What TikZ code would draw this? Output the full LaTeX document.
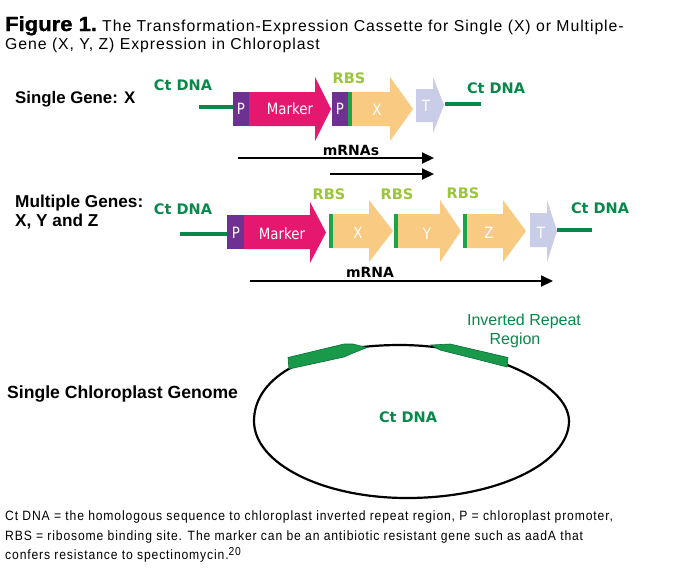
\documentclass[tikz,border=0pt]{standalone}
\usepackage{fontspec}
\setmainfont{Liberation Sans}
\newfontfamily\vfont{DejaVu Sans}
\newfontfamily\tfont[FakeStretch=0.86]{DejaVu Sans}
\newfontfamily\capfont[LetterSpace=6]{Liberation Sans}
\newfontfamily\notefont[FakeStretch=0.9,LetterSpace=6.4]{Liberation Sans}
\newfontfamily\figfont[FakeStretch=1.08,FakeBold=1.2]{Liberation Sans}
\usetikzlibrary{arrows.meta}
\definecolor{ctgreen}{RGB}{10,135,75}
\definecolor{rbsgreen}{RGB}{156,197,62}
\definecolor{ppurple}{RGB}{110,49,145}
\definecolor{marker}{RGB}{229,23,111}
\definecolor{tan}{RGB}{249,203,130}
\definecolor{tlav}{RGB}{201,205,232}
\definecolor{strip}{RGB}{27,165,72}
\definecolor{blob}{RGB}{25,154,75}
\definecolor{blobedge}{RGB}{10,107,53}
\newcommand\gArrow[8]{%
  \fill[#8] ({#1},{#4}) -- ({#2},{#4}) -- ({#2},{#6}) -- ({#3},{(#6+#7)/2}) -- ({#2},{#7}) -- ({#2},{#5}) -- ({#1},{#5}) -- cycle;}
\tikzset{
  ctlbl/.style={font=\vfont\bfseries\fontsize{14.5}{17}\selectfont, text=ctgreen, inner sep=0},
  rbslbl/.style={font=\vfont\bfseries\fontsize{14.5}{17}\selectfont, text=rbsgreen, inner sep=0},
  rnalbl/.style={font=\vfont\bfseries\fontsize{14}{17}\selectfont, text=black, inner sep=0},
  boxlbl/.style={font=\tfont\fontsize{15.5}{18}\selectfont, text=white, inner sep=0},
  rowlbl/.style={font=\bfseries\fontsize{16.8}{19}\selectfont, inner sep=0, anchor=base west},
  caplbl/.style={font=\notefont\fontsize{13.5}{16}\selectfont, inner sep=0, anchor=base west},
  dnaline/.style={draw=ctgreen, line width=4pt},
  rnaarrow/.style={draw=black, line width=2pt, -{Triangle[length=12pt,width=11pt]}},
}
\begin{document}
\begin{tikzpicture}[x=1pt,y=-1pt]
\useasboundingbox (0,0) rectangle (676,576);
\fill[white] (0,0) rectangle (676,576);
% title
\node[anchor=base west, inner sep=0, font=\figfont\bfseries\fontsize{20.4}{24}\selectfont] (fig) at (5,31) {Figure 1.};
\node[anchor=base west, inner sep=0, font=\capfont\fontsize{15.8}{18}\selectfont] (t1) at (102,31) {The Transformation-Expression Cassette for Single (X) or Multiple-};
\node[anchor=base west, inner sep=0, font=\capfont\fontsize{15.8}{18}\selectfont] (t2) at (5,49) {Gene (X, Y, Z) Expression in Chloroplast};

% ---------- single gene row
\node[rowlbl] (sg) at (15,103) {Single Gene: X};
\coordinate (s1a) at (199,107); \coordinate (s1b) at (234,107);
\draw[dnaline] (s1a) -- (s1b);
\fill[ppurple] (233,92) rectangle (249,126);
\gArrow{249}{315}{331}{92}{126}{77}{141}{marker}
\fill[ppurple] (332,92) rectangle (348,126);
\fill[strip] (348,92) rectangle (352,126);
\gArrow{352}{390}{413}{92}{126}{77}{141}{tan}
\gArrow{416}{433}{444}{89}{122}{77}{133}{tlav}
\coordinate (s2a) at (445,104); \coordinate (s2b) at (481,104);
\draw[dnaline] (s2a) -- (s2b);
\node[boxlbl] (sp1) at (241,109) {P};
\node[boxlbl] (smk) at (290,109) {Marker};
\node[boxlbl] (sp2) at (340,109) {P};
\node[boxlbl] (sx) at (377,110) {X};
\node[boxlbl] (st) at (426,106) {T};
\node[ctlbl] (sct1) at (183,85) {Ct DNA};
\node[ctlbl] (sct2) at (496,88) {Ct DNA};
\node[rbslbl] (srbs) at (349,78) {RBS};
\node[rnalbl] (smr) at (351,150) {mRNAs};
\coordinate (m1a) at (238,158); \coordinate (m1b) at (434,158);
\coordinate (m2a) at (330,174); \coordinate (m2b) at (434,174);
\draw[rnaarrow] (m1a) -- (m1b);
\draw[rnaarrow] (m2a) -- (m2b);

% ---------- multiple genes row
\node[rowlbl, font=\bfseries\fontsize{17.2}{19}\selectfont] (mg1) at (15,207) {Multiple Genes:};
\node[rowlbl, font=\bfseries\fontsize{17.2}{19}\selectfont] (mg2) at (15,226) {X, Y and Z};
\coordinate (d1a) at (180,234); \coordinate (d1b) at (228,234);
\draw[dnaline] (d1a) -- (d1b);
\fill[ppurple] (227,215) rectangle (244,249);
\gArrow{244}{310}{326}{215}{249}{202}{263}{marker}
\fill[strip] (329,214) rectangle (333,248);
\gArrow{333}{369}{393}{214}{248}{200}{262}{tan}
\fill[strip] (394,214) rectangle (398,248);
\gArrow{398}{440}{461}{214}{248}{200}{262}{tan}
\fill[strip] (463,214) rectangle (467,248);
\gArrow{467}{503}{526}{214}{248}{200}{262}{tan}
\gArrow{530}{547}{557}{213}{247}{200}{262}{tlav}
\coordinate (d2a) at (557,230); \coordinate (d2b) at (592,230);
\draw[dnaline] (d2a) -- (d2b);
\node[boxlbl] (mp) at (236,233) {P};
\node[boxlbl] (mmk) at (282,234) {Marker};
\node[boxlbl] (mx) at (358,233) {X};
\node[boxlbl] (my) at (427,234) {Y};
\node[boxlbl] (mz) at (489,233) {Z};
\node[boxlbl] (mt) at (541,233) {T};
\node[ctlbl] (mct1) at (183,209) {Ct DNA};
\node[ctlbl] (mct2) at (600,208) {Ct DNA};
\node[rbslbl] (mr1) at (329,194) {RBS};
\node[rbslbl] (mr2) at (397,194) {RBS};
\node[rbslbl] (mr3) at (463,193) {RBS};
\node[rnalbl] (mmr) at (370,272) {mRNA};
\coordinate (m3a) at (250,281); \coordinate (m3b) at (553,281);
\draw[rnaarrow] (m3a) -- (m3b);

% ---------- genome
\node[font=\bfseries\fontsize{17.6}{20}\selectfont, inner sep=0, anchor=base west] (gen) at (7,398) {Single Chloroplast Genome};
\draw[black, line width=2.2pt] (254,421) .. controls (254,375.4) and (312.4,345) .. (400,345)
  .. controls (484.5,345) and (569,383) .. (569,421)
  .. controls (569,463.5) and (496.4,498) .. (407,498)
  .. controls (322.5,498) and (254,463.5) .. (254,421) -- cycle;
\filldraw[fill=blob, draw=blobedge, line width=0.6pt] (288,357.5) -- (344,344) -- (353,344) -- (367,347.5) -- (352,353.5) -- (344,357) -- (289,369) -- cycle;
\filldraw[fill=blob, draw=blobedge, line width=0.6pt] (431,345) -- (450,344) -- (508,357.5) -- (507,367) -- (472,358) -- (440,350) -- cycle;
\node[ctlbl] (gct) at (408,417) {Ct DNA};
\node[font=\fontsize{16}{19}\selectfont, text=ctgreen, inner sep=0, anchor=base] (ir1) at (524,325) {Inverted Repeat};
\node[font=\fontsize{16}{19}\selectfont, text=ctgreen, inner sep=0, anchor=base] (ir2) at (515,344) {Region};

% ---------- caption
\node[caplbl] (c1) at (5,520.5) {Ct DNA = the homologous sequence to chloroplast inverted repeat region, P = chloroplast promoter,};
\node[caplbl] (c2) at (5,540) {RBS = ribosome binding site. The marker can be an antibiotic resistant gene such as aadA that};
\node[caplbl] (c3) at (5,559.5) {confers resistance to spectinomycin.\raisebox{4.5pt}{\fontsize{11.5}{12}\selectfont 20}};
\end{tikzpicture}
\end{document}
